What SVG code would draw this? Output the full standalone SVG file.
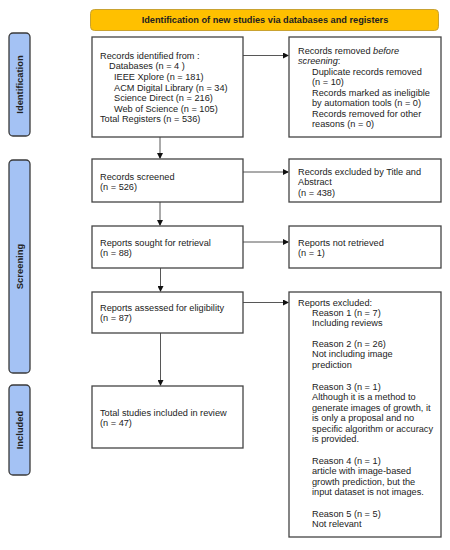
<svg xmlns="http://www.w3.org/2000/svg" width="450" height="550" viewBox="0 0 450 550">
<defs>
<style>
text{font-family:"Liberation Sans",Arial,sans-serif;font-size:9.2px;fill:#222}
.box{fill:#fff;stroke:#444;stroke-width:1.3}
.side{fill:#a4c2f4;stroke:#3a3a3a;stroke-width:1.3}
.sl{font-weight:bold;font-size:9.4px;text-anchor:middle}
.con{stroke:#444;stroke-width:0.9;fill:none;marker-end:url(#ah)}
</style>
<marker id="ah" markerWidth="6" markerHeight="6" refX="5" refY="3" orient="auto" markerUnits="userSpaceOnUse">
<path d="M0,0 L6,3 L0,6 z" fill="#111"/>
</marker>
</defs>
<rect width="450" height="550" fill="#fff"/>
<g id="header">
<rect x="90.5" y="9.5" width="348" height="21" rx="4" fill="#ffc000" stroke="#c9a230" stroke-width="1"/>
<text x="265" y="23.3" text-anchor="middle" font-weight="bold">Identification of new studies via databases and registers</text>
</g>
<g id="side-identification">
<rect class="side" x="9" y="33" width="21" height="103" rx="4"/>
<text class="sl" transform="translate(23.3,84.5) rotate(-90)">Identification</text>
</g>
<g id="side-screening">
<rect class="side" x="9" y="160" width="21" height="213" rx="4"/>
<text class="sl" transform="translate(23.3,266.5) rotate(-90)">Screening</text>
</g>
<g id="side-included">
<rect class="side" x="9" y="385" width="21" height="90" rx="4"/>
<text class="sl" transform="translate(23.3,430) rotate(-90)">Included</text>
</g>
<g id="connectors">
<line class="con" x1="243" y1="55.5" x2="288" y2="55.5"/>
<line class="con" x1="243" y1="172" x2="288" y2="172"/>
<line class="con" x1="243" y1="242" x2="288" y2="242"/>
<line class="con" x1="243" y1="302.5" x2="288" y2="302.5"/>
<line class="con" x1="160" y1="137" x2="160" y2="158"/>
<line class="con" x1="160" y1="202" x2="160" y2="225"/>
<line class="con" x1="160.5" y1="268" x2="160.5" y2="291"/>
<line class="con" x1="160.5" y1="333" x2="160.5" y2="385"/>
</g>
<g id="records-identified">
<rect class="box" x="92" y="37" width="151" height="100"/>
<text x="100" y="58.5">Records identified from :</text>
<text x="109" y="69">Databases (n = 4 )</text>
<text x="114" y="80">IEEE Xplore (n = 181)</text>
<text x="114" y="90.5">ACM Digital Library (n = 34)</text>
<text x="114" y="101">Science Direct (n = 216)</text>
<text x="114" y="111.5">Web of Science (n = 105)</text>
<text x="100" y="122">Total Registers (n = 536)</text>
</g>
<g id="records-removed">
<rect class="box" x="289" y="37" width="152" height="100"/>
<text x="298" y="53.5">Records removed <tspan font-style="italic">before</tspan></text>
<text x="298" y="64" font-style="italic">screening<tspan font-style="normal">:</tspan></text>
<text x="312" y="74.5">Duplicate records removed</text>
<text x="312" y="85">(n = 10)</text>
<text x="312" y="95.5">Records marked as ineligible</text>
<text x="312" y="106">by automation tools (n = 0)</text>
<text x="312" y="116.5">Records removed for other</text>
<text x="312" y="127">reasons (n = 0)</text>
</g>
<g id="records-screened">
<rect class="box" x="92" y="159" width="151" height="43"/>
<text x="100" y="179.5">Records screened</text>
<text x="100" y="190">(n = 526)</text>
</g>
<g id="records-excluded">
<rect class="box" x="289" y="159" width="152" height="43"/>
<text x="298" y="174.5">Records excluded by Title and</text>
<text x="298" y="185">Abstract</text>
<text x="298" y="195.5">(n = 438)</text>
</g>
<g id="reports-sought">
<rect class="box" x="92" y="226" width="151" height="42"/>
<text x="100" y="245.5">Reports sought for retrieval</text>
<text x="100" y="256">(n = 88)</text>
</g>
<g id="reports-not-retrieved">
<rect class="box" x="289" y="226" width="152" height="42"/>
<text x="298" y="245.5">Reports not retrieved</text>
<text x="298" y="256">(n = 1)</text>
</g>
<g id="reports-assessed">
<rect class="box" x="92" y="292" width="151" height="41"/>
<text x="100" y="310.5">Reports assessed for eligibility</text>
<text x="100" y="321">(n = 87)</text>
</g>
<g id="reports-excluded">
<rect class="box" x="289" y="292" width="152" height="245"/>
<text x="298" y="305.5">Reports excluded:</text>
<text x="312" y="315.5">Reason 1 (n = 7)</text>
<text x="312" y="326">Including reviews</text>
<text x="312" y="346.5">Reason 2  (n = 26)</text>
<text x="312" y="357">Not including image</text>
<text x="312" y="367.5">prediction</text>
<text x="312" y="389.5">Reason 3 (n = 1)</text>
<text x="312" y="400">Although it is a method to</text>
<text x="312" y="410.5">generate images of growth, it</text>
<text x="312" y="421">is only a proposal and no</text>
<text x="312" y="431.5">specific algorithm or accuracy</text>
<text x="312" y="442">is provided.</text>
<text x="312" y="463.5">Reason 4 (n = 1)</text>
<text x="312" y="474">article with image-based</text>
<text x="312" y="484.5">growth prediction, but the</text>
<text x="312" y="495">input dataset is not images.</text>
<text x="312" y="516.5">Reason 5 (n = 5)</text>
<text x="312" y="527">Not relevant</text>
</g>
<g id="total-included">
<rect class="box" x="92" y="386" width="151" height="62"/>
<text x="100" y="415.5">Total studies included in review</text>
<text x="100" y="426">(n = 47)</text>
</g>
</svg>
